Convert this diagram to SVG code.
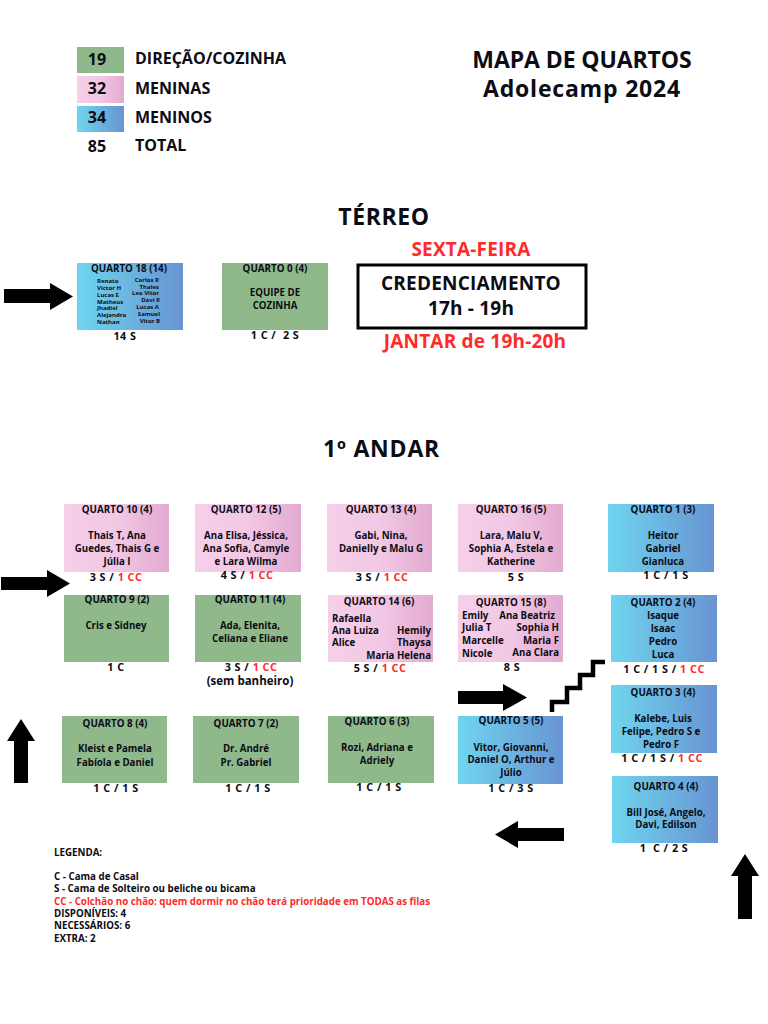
<svg xmlns="http://www.w3.org/2000/svg" width="768" height="1024" viewBox="0 0 768 1024">
<style>
text{font-family:"Open Sans","Noto Sans","DejaVu Sans",sans-serif;font-weight:700;fill:#0c0c14;text-anchor:middle}
.l{text-anchor:start}.e{text-anchor:end}
.t{font-size:9.8px}.n{font-size:9.7px}.b{font-size:10.8px;letter-spacing:.5px}
.r{fill:#ff2a2a}
.h{font-size:23px}.leg{font-size:16px}.s{font-size:6px}
.num{font-size:16px}
.g{fill:#8fb98b}.p{fill:url(#pink)}.c{fill:url(#blue)}
.k{font-size:9.75px}
.m{font-size:19px;letter-spacing:.2px}
</style>
<defs>
<linearGradient id="pink"><stop offset="0" stop-color="#f6cfe9"/><stop offset=".5" stop-color="#f2c8e5"/><stop offset="1" stop-color="#e2aacf"/></linearGradient>
<linearGradient id="blue"><stop offset="0" stop-color="#6fd5ef"/><stop offset="1" stop-color="#6894d2"/></linearGradient>
</defs>

<g id="legend-top">
<rect class="g" x="77" y="47" width="47" height="26"/><text class="num" x="97" y="65">19</text><text class="l leg" x="135" y="64">DIREÇÃO/COZINHA</text>
<rect class="p" x="77" y="76" width="47" height="27"/><text class="num" x="97" y="94">32</text><text class="l leg" x="135" y="94">MENINAS</text>
<rect class="c" x="77" y="106" width="47" height="26"/><text class="num" x="97" y="123">34</text><text class="l leg" x="135" y="123">MENINOS</text>
<text class="num" x="97" y="152">85</text><text class="l leg" x="135" y="151">TOTAL</text>
</g>
<g id="title"><text class="h" x="582" y="68" style="letter-spacing:-.1px">MAPA DE QUARTOS</text><text class="h" x="582" y="97" style="letter-spacing:.8px">Adolecamp 2024</text></g>
<text class="h" x="384" y="225" style="letter-spacing:.6px">TÉRREO</text>
<text class="h" x="381.500" y="457" style="letter-spacing:.8px">1º ANDAR</text>

<g id="quarto-18"><rect class="c" x="77" y="263" width="106" height="67"/>
<text class="t" x="129" y="272">QUARTO 18 (14)</text>
<text class="l s" x="97" y="283">Renato</text><text class="l s" x="97" y="290">Victor H</text><text class="l s" x="97" y="297">Lucas E</text><text class="l s" x="97" y="304">Matheus</text><text class="l s" x="97" y="310">Jhadiel</text><text class="l s" x="97" y="317">Alejandro</text><text class="l s" x="97" y="324">Nathan</text>
<text class="e s" x="159" y="282">Carlos R</text><text class="e s" x="159" y="289">Thales</text><text class="e s" x="159" y="295">Leo Vitor</text><text class="e s" x="160" y="302">Davi R</text><text class="e s" x="159" y="309">Lucas A</text><text class="e s" x="160" y="316">Samuel</text><text class="e s" x="160" y="323">Vitor B</text>
<text class="b" x="125" y="340">14 S</text></g>

<g id="quarto-0"><rect class="g" x="222" y="263" width="106" height="67"/>
<text class="t" x="275" y="272">QUARTO 0 (4)</text><text class="n" x="275" y="296">EQUIPE DE</text><text class="n" x="275" y="309">COZINHA</text>
<text class="b" x="275" y="339" xml:space="preserve">1 C /  2 S</text></g>

<g id="credenciamento">
<text x="471" y="256" class="m r">SEXTA-FEIRA</text>
<rect x="358" y="265" width="228" height="63" fill="#fff" stroke="#000" stroke-width="3"/>
<text x="471" y="290" class="m">CREDENCIAMENTO</text><text x="471" y="315" class="m">17h - 19h</text>
<text x="475" y="348" class="m r">JANTAR de 19h-20h</text>
</g>

<g id="quarto-10"><rect class="p" x="64" y="504" width="105" height="68"/><text class="t" x="117" y="513">QUARTO 10 (4)</text><text class="n" x="117" y="539">Thais T, Ana</text><text class="n" x="117" y="552">Guedes, Thais G e</text><text class="n" x="117" y="565">Júlia I</text><text class="b" x="116" y="581">3 S / <tspan class="r">1 CC</tspan></text></g>
<g id="quarto-12"><rect class="p" x="195" y="504" width="106" height="68"/><text class="t" x="246" y="513">QUARTO 12 (5)</text><text class="n" x="246" y="539">Ana Elisa, Jéssica,</text><text class="n" x="246" y="552">Ana Sofia, Camyle</text><text class="n" x="246" y="565">e Lara Wilma</text><text class="b" x="247" y="579">4 S / <tspan class="r">1 CC</tspan></text></g>
<g id="quarto-13"><rect class="p" x="327" y="504" width="105" height="68"/><text class="t" x="381" y="513">QUARTO 13 (4)</text><text class="n" x="381" y="539">Gabi, Nina,</text><text class="n" x="381" y="552">Danielly e Malu G</text><text class="b" x="382" y="581">3 S / <tspan class="r">1 CC</tspan></text></g>
<g id="quarto-16"><rect class="p" x="458" y="504" width="105" height="68"/><text class="t" x="511" y="513">QUARTO 16 (5)</text><text class="n" x="511" y="539">Lara, Malu V,</text><text class="n" x="511" y="552">Sophia A, Estela e</text><text class="n" x="511" y="565">Katherine</text><text class="b" x="516" y="581">5 S</text></g>
<g id="quarto-1"><rect class="c" x="608" y="504" width="106" height="68"/><text class="t" x="663" y="513">QUARTO 1 (3)</text><text class="n" x="663" y="539">Heitor</text><text class="n" x="663" y="552">Gabriel</text><text class="n" x="663" y="565">Gianluca</text><text class="b" x="666" y="579">1 C / 1 S</text></g>

<g id="quarto-9"><rect class="g" x="64" y="595" width="105" height="67"/><text class="t" x="117" y="603">QUARTO 9 (2)</text><text class="n" x="116" y="629">Cris e Sidney</text><text class="b" x="116" y="671">1 C</text></g>
<g id="quarto-11"><rect class="g" x="195" y="595" width="106" height="67"/><text class="t" x="250" y="603">QUARTO 11 (4)</text><text class="n" x="250" y="629">Ada, Elenita,</text><text class="n" x="250" y="642">Celiana e Eliane</text><text class="b" x="251" y="671">3 S / <tspan class="r">1 CC</tspan></text><text x="250" y="685" style="font-size:11.500px">(sem banheiro)</text></g>
<g id="quarto-14"><rect class="p" x="328" y="595" width="105" height="67"/><text class="t" x="379" y="605">QUARTO 14 (6)</text><text class="n l" x="332" y="622">Rafaella</text><text class="n l" x="332" y="634">Ana Luiza</text><text class="n l" x="332" y="646">Alice</text><text class="n e" x="431" y="634">Hemily</text><text class="n e" x="431" y="646">Thaysa</text><text class="n e" x="431" y="658.500">Maria Helena</text><text class="b" x="380" y="671.500">5 S / <tspan class="r">1 CC</tspan></text></g>
<g id="quarto-15"><rect class="p" x="458" y="595" width="105" height="67"/><text class="t" x="511" y="606">QUARTO 15 (8)</text><text class="n l" x="462" y="619">Emily</text><text class="n l" x="462" y="631">Julia T</text><text class="n l" x="462" y="644">Marcelle</text><text class="n l" x="462" y="657">Nicole</text><text class="n e" x="555" y="619">Ana Beatriz</text><text class="n e" x="559" y="631">Sophia H</text><text class="n e" x="559" y="644">Maria F</text><text class="n e" x="559" y="656">Ana Clara</text><text class="b" x="512" y="671">8 S</text></g>
<g id="quarto-2"><rect class="c" x="611" y="595" width="106" height="67"/><text class="t" x="663" y="606">QUARTO 2 (4)</text><text class="n" x="663" y="619">Isaque</text><text class="n" x="663" y="632">Isaac</text><text class="n" x="663" y="645">Pedro</text><text class="n" x="663" y="658">Luca</text><text class="b" x="664" y="673">1 C / 1 S / <tspan class="r">1 CC</tspan></text></g>
<g id="quarto-3"><rect class="c" x="611" y="685" width="106" height="68"/><text class="t" x="663" y="696">QUARTO 3 (4)</text><text class="n" x="663" y="722">Kalebe, Luis</text><text class="n" x="661" y="735">Felipe, Pedro S e</text><text class="n" x="661" y="748">Pedro F</text><text class="b" x="662" y="762">1 C / 1 S / <tspan class="r">1 CC</tspan></text></g>
<g id="quarto-4"><rect class="c" x="612" y="776" width="106" height="67"/><text class="t" x="666" y="790">QUARTO 4 (4)</text><text class="n" x="666" y="816">Bill José, Angelo,</text><text class="n" x="666" y="828">Davi, Edilson</text><text class="b" x="664" y="852" xml:space="preserve">1  C / 2 S</text></g>
<g id="quarto-5"><rect class="c" x="458" y="716" width="105" height="68"/><text class="t" x="511" y="724">QUARTO 5 (5)</text><text class="n" x="511" y="751">Vitor, Giovanni,</text><text class="n" x="511" y="763">Daniel O, Arthur e</text><text class="n" x="511" y="776">Júlio</text><text class="b" x="511" y="792">1 C / 3 S</text></g>
<g id="quarto-8"><rect class="g" x="62" y="716" width="105" height="67"/><text class="t" x="115" y="727">QUARTO 8 (4)</text><text class="n" x="115" y="752">Kleist e Pamela</text><text class="n" x="115" y="766">Fabíola e Daniel</text><text class="b" x="116" y="792">1 C / 1 S</text></g>
<g id="quarto-7"><rect class="g" x="193" y="716" width="106" height="67"/><text class="t" x="246" y="727">QUARTO 7 (2)</text><text class="n" x="246" y="752">Dr. André</text><text class="n" x="246" y="766">Pr. Gabriel</text><text class="b" x="248" y="792">1 C / 1 S</text></g>
<g id="quarto-6"><rect class="g" x="328" y="716" width="106" height="67"/><text class="t" x="377" y="725">QUARTO 6 (3)</text><text class="n" x="377" y="751">Rozi, Adriana e</text><text class="n" x="377" y="764">Adriely</text><text class="b" x="379" y="791">1 C / 1 S</text></g>

<g id="connectors" fill="#000">
<polygon points="4,289 50,289 50,283 73,296.500 50,310 50,303 4,303"/>
<polygon points="1,577 47,577 47,570 70,583.500 47,597 47,590 1,590"/>
<polygon points="458,691 503,691 503,684 527,697.500 503,711 503,704 458,704"/>
<polygon points="21,719 35,741 28,741 28,783 14,783 14,741 7,741"/>
<polygon points="495,834.500 518,821 518,828 564,828 564,841 518,841 518,848"/>
<polygon points="745,854 759,876 752,876 752,919 738,919 738,876 731,876"/>
<polyline points="552,712 552,702 567,702 567,688 580,688 580,675 593,675 593,662 605,662" fill="none" stroke="#000" stroke-width="4.500"/>
</g>

<g id="legenda">
<text class="l k" x="54" y="856">LEGENDA:</text>
<text class="l k" x="54" y="880">C - Cama de Casal</text>
<text class="l k" x="54" y="892">S - Cama de Solteiro ou beliche ou bicama</text>
<text class="l k r" x="54" y="905">CC - Colchão no chão: quem dormir no chão terá prioridade em TODAS as filas</text>
<text class="l k" x="54" y="917">DISPONÍVEIS: 4</text>
<text class="l k" x="54" y="929">NECESSÁRIOS: 6</text>
<text class="l k" x="54" y="942">EXTRA: 2</text>
</g>
</svg>
